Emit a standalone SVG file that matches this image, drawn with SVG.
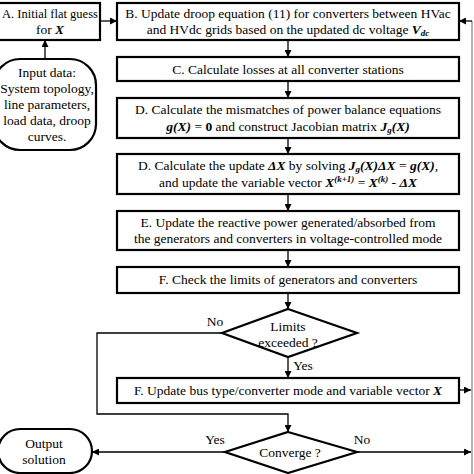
<svg xmlns="http://www.w3.org/2000/svg" width="474" height="474" viewBox="0 0 474 474">
<defs>
<marker id="ah" viewBox="0 0 10 10" refX="10" refY="5" markerWidth="7" markerHeight="7" markerUnits="userSpaceOnUse" orient="auto">
<path d="M0,0 L10,5 L0,10 z" fill="#000"/>
</marker>
<style>
.box{fill:#fff;stroke:#000;stroke-width:2.2}
.t{font-family:"Liberation Serif","Times New Roman",serif;font-size:13.5px;fill:#000;text-anchor:middle}
.m{font-weight:bold;font-style:italic}
.b{font-weight:bold}
.c{fill:none;stroke:#000;stroke-width:1.3}
.g{fill:none;stroke:#999;stroke-width:1.5}
</style>
</defs>
<rect width="474" height="474" fill="#fff"/>
<g id="connectors">
<line class="c" x1="100" y1="21" x2="117" y2="21" marker-end="url(#ah)"/>
<line class="c" x1="45" y1="59" x2="45" y2="40" marker-end="url(#ah)"/>
<line class="c" x1="288" y1="40" x2="288" y2="57" marker-end="url(#ah)"/>
<line class="c" x1="288" y1="81" x2="288" y2="98" marker-end="url(#ah)"/>
<line class="c" x1="288" y1="138" x2="288" y2="154" marker-end="url(#ah)"/>
<line class="c" x1="288" y1="194" x2="288" y2="211" marker-end="url(#ah)"/>
<line class="c" x1="288" y1="250" x2="288" y2="267" marker-end="url(#ah)"/>
<line class="c" x1="288" y1="293" x2="288" y2="309" marker-end="url(#ah)"/>
<line class="c" x1="288" y1="357" x2="288" y2="378" marker-end="url(#ah)"/>
<polyline class="c" points="222,333 97,333 97,414 288,414 288,432" marker-end="url(#ah)"/>
<line class="c" x1="225" y1="452" x2="92" y2="452" marker-end="url(#ah)"/>
<line class="c" x1="357" y1="452" x2="471" y2="452" marker-end="url(#ah)"/>
<line class="c" x1="459" y1="390" x2="471" y2="390" marker-end="url(#ah)"/>
<line class="g" x1="472" y1="21" x2="472" y2="474"/>
<line class="c" x1="472" y1="21" x2="459" y2="21" marker-end="url(#ah)"/>
</g>
<g id="nodeA">
<rect class="box" x="-8" y="3" width="108" height="37"/>
<text class="t" x="50" y="18" style="font-size:12.5px">A. Initial flat guess</text>
<text class="t" x="50" y="34">for <tspan class="m">X</tspan></text>
</g>
<g id="input">
<rect class="box" x="-6" y="59" width="102" height="91" rx="26" ry="26"/>
<text class="t" x="47" y="77">Input data:</text>
<text class="t" x="47" y="93">System topology,</text>
<text class="t" x="47" y="109">line parameters,</text>
<text class="t" x="47" y="125">load data, droop</text>
<text class="t" x="47" y="141">curves.</text>
</g>
<g id="nodeB">
<rect class="box" x="117" y="3" width="342" height="37"/>
<text class="t" x="288" y="18">B. Update droop equation (11) for converters between HVac</text>
<text class="t" x="288" y="34">and HVdc grids based on the updated dc voltage <tspan class="m">V</tspan><tspan class="m" style="font-size:9px" dy="2">dc</tspan></text>
</g>
<g id="nodeC">
<rect class="box" x="117" y="57" width="342" height="24"/>
<text class="t" x="288" y="74">C. Calculate losses at all converter stations</text>
</g>
<g id="nodeD1">
<rect class="box" x="117" y="98" width="342" height="40"/>
<text class="t" x="288" y="114">D. Calculate the mismatches of power balance equations</text>
<text class="t" x="288" y="131"><tspan class="m">g(X)</tspan> = <tspan class="b">0</tspan> and construct Jacobian matrix <tspan class="m">J</tspan><tspan class="m" style="font-size:9px" dy="2">g</tspan><tspan class="m" dy="-2">(X)</tspan></text>
</g>
<g id="nodeD2">
<rect class="box" x="117" y="154" width="342" height="40"/>
<text class="t" x="288" y="170">D. Calculate the update <tspan class="m">ΔX</tspan> by solving <tspan class="m">J</tspan><tspan class="m" style="font-size:9px" dy="2">g</tspan><tspan class="m" dy="-2">(X)ΔX</tspan> = <tspan class="m">g(X)</tspan>,</text>
<text class="t" x="288" y="187">and update the variable vector <tspan class="m">X</tspan><tspan class="m" style="font-size:9px" dy="-5">(k+1)</tspan><tspan dy="5"> = </tspan><tspan class="m">X</tspan><tspan class="m" style="font-size:9px" dy="-5">(k)</tspan><tspan dy="5"> - </tspan><tspan class="m">ΔX</tspan></text>
</g>
<g id="nodeE">
<rect class="box" x="117" y="211" width="342" height="39"/>
<text class="t" x="288" y="227">E. Update the reactive power generated/absorbed from</text>
<text class="t" x="288" y="243">the generators and converters in voltage-controlled mode</text>
</g>
<g id="nodeF1">
<rect class="box" x="117" y="267" width="342" height="26"/>
<text class="t" x="288" y="284">F. Check the limits of generators and converters</text>
</g>
<g id="limits">
<polygon class="box" points="288,309 357,333 288,357 222,333" stroke-width="1.8"/>
<text class="t" x="288" y="331">Limits</text>
<text class="t" x="288" y="347">exceeded ?</text>
</g>
<g id="nodeF2">
<rect class="box" x="117" y="378" width="342" height="25"/>
<text class="t" x="288" y="395">F. Update bus type/converter mode and variable vector <tspan class="m">X</tspan></text>
</g>
<g id="converge">
<polygon class="box" points="288,432 357,452 288,473 225,452" stroke-width="1.8"/>
<text class="t" x="290" y="457">Converge ?</text>
</g>
<g id="output">
<rect class="box" x="-2" y="429" width="94" height="44" rx="22" ry="22"/>
<text class="t" x="44" y="448">Output</text>
<text class="t" x="44" y="464">solution</text>
</g>
<g id="labels">
<text class="t" x="215" y="326">No</text>
<text class="t" x="303" y="370">Yes</text>
<text class="t" x="215" y="444">Yes</text>
<text class="t" x="362" y="444">No</text>
</g>
</svg>
